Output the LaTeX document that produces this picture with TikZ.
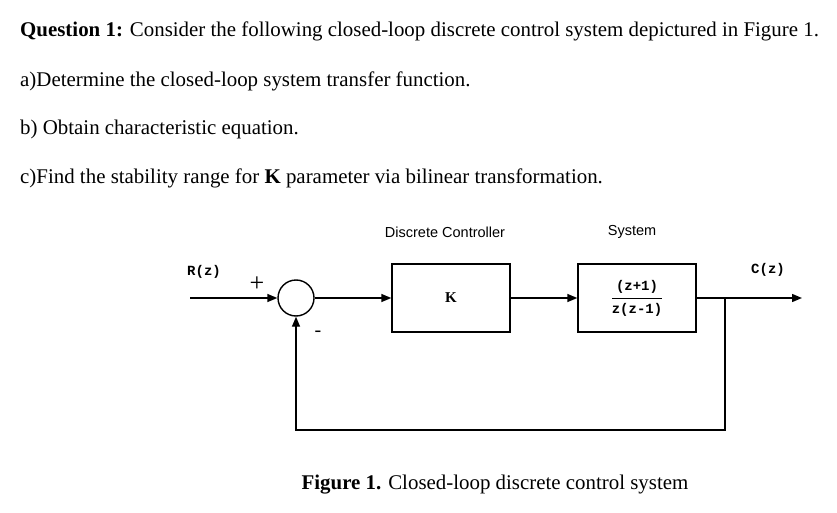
\documentclass[tikz,border=0pt]{standalone}
\usepackage{fontspec}
\setmainfont{Liberation Serif}
\newfontfamily\lsans{Liberation Sans}
\newfontfamily\lmono{Liberation Mono}
\usetikzlibrary{arrows.meta}
\begin{document}
\begin{tikzpicture}[x=1pt,y=-1pt,
  txt/.style={anchor=west,inner sep=0pt,font=\fontsize{20.9}{22}\selectfont},
  blk/.style={draw,line width=1.4pt,minimum width=118pt,minimum height=68pt},
  ln/.style={line width=1.4pt},
  ar/.style={ln,-{Triangle[length=10pt,width=8pt]}},
  lab/.style={font=\lsans\fontsize{14.5}{16}\selectfont},
  mlab/.style={font=\lmono\bfseries\fontsize{14}{16}\selectfont}]
\useasboundingbox (0,0) rectangle (837,513);
\node[txt] (q1) at (20,31) {\textbf{Question 1:} Consider the following closed-loop discrete control system depictured in Figure 1.};
\node[txt] (qa) at (20,81) {a)Determine the closed-loop system transfer function.};
\node[txt] (qb) at (20,129) {b) Obtain characteristic equation.};
\node[txt] (qc) at (20,178) {c)Find the stability range for \textbf{K} parameter via bilinear transformation.};
\node[lab] (l1) at (445,232) {Discrete Controller};
\node[lab] (l2) at (632,232) {System};
\coordinate (in) at (190,298);
\node[draw,circle,ln,minimum size=36pt,inner sep=0pt] (s) at (296,298) {};
\node[blk,font=\bfseries\fontsize{15}{16}\selectfont] (k) at (451,298) {K};
\node[blk] (g) at (637,298) {};
\node[mlab] (num) at (637,287) {(z+1)};
\node[mlab] (den) at (637,310) {z(z-1)};
\draw[line width=0.8pt] (612,298) -- (662,298);
\coordinate (out) at (802,298);
\coordinate (br) at (725,298);
\coordinate (fb1) at (725,430);
\coordinate (fb2) at (296,430);
\node[mlab] (R) at (204,272) {R(z)};
\node[mlab] (C) at (768,270) {C(z)};
\node[font=\fontsize{26}{26}\selectfont] (p) at (257,284) {+};
\node[font=\fontsize{20}{20}\selectfont] (m) at (318,334) {-};
\draw[ar] (in) -- (s.west);
\draw[ar] (s.east) -- (k.west);
\draw[ar] (k.east) -- (g.west);
\draw[ar] (g.east) -- (out);
\draw[ar] (br) -- (fb1) -- (fb2) -- (s.south);
\node[anchor=center,font=\fontsize{20.9}{22}\selectfont] (cap) at (495,485) {\textbf{Figure 1.} Closed-loop discrete control system};
\end{tikzpicture}
\end{document}
